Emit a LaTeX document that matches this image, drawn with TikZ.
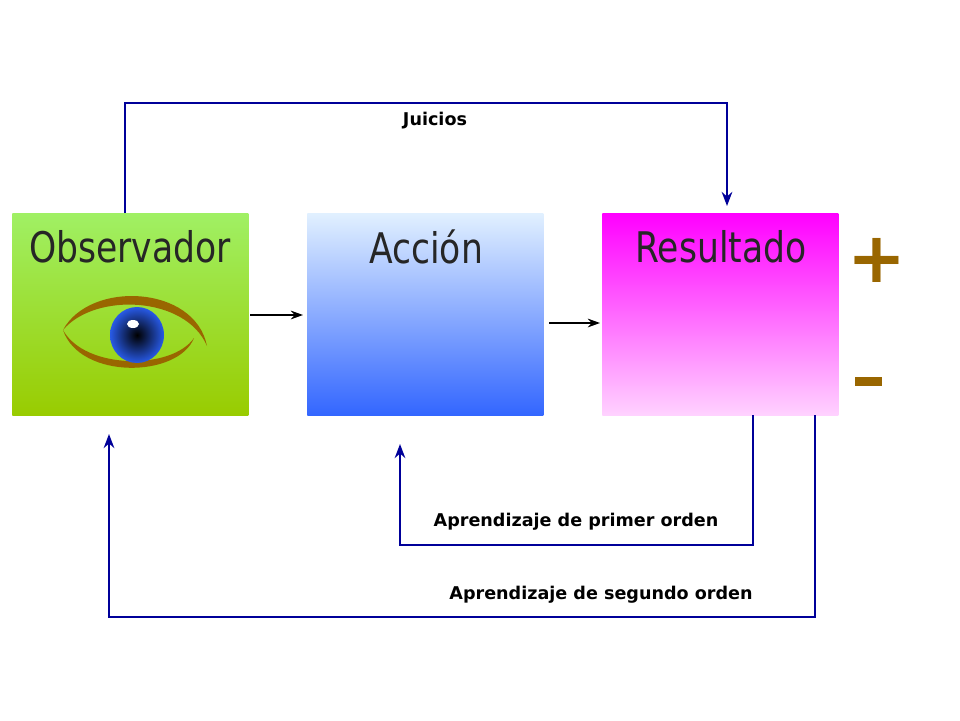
\documentclass[tikz,border=0pt]{standalone}
\usepackage{fontspec}
\setmainfont{DejaVu Sans}
\usetikzlibrary{arrows.meta,shadows}
\definecolor{lk}{HTML}{000099}
\definecolor{br}{HTML}{996600}
\tikzset{
 lnk/.style={draw=lk,line width=1.6pt,-{Stealth[length=8pt,width=6pt]}},
 sm/.style={draw=black,line width=0.8pt,-{Stealth[length=7pt,width=5pt]}},
 lbl/.style={font=\bfseries\fontsize{10}{12}\selectfont},
 ttl/.style={font=\fontsize{24}{28}\selectfont,text=black!85},
 box/.style={minimum width=4.72cm,minimum height=4.04cm,inner sep=0pt,anchor=north west,draw=none}
}
\begin{document}
\begin{tikzpicture}[x=0.02cm,y=-0.02cm]
\useasboundingbox[fill=white] (0,0) rectangle (960,720);
\node[box,top color={rgb,255:red,160;green,240;blue,100},bottom color={rgb,255:red,153;green,204;blue,0}] (obs) at (12,213) {};
\node[box,top color={rgb,255:red,225;green,240;blue,255},bottom color={rgb,255:red,51;green,102;blue,255}] (acc) at (307,213) {};
\node[box,top color={rgb,255:red,255;green,0;blue,255},bottom color={rgb,255:red,255;green,210;blue,255}] (res) at (602,213) {};
\node[ttl] (tobs) at (130,247) {\scalebox{0.82}[1]{Observador}};
\node[ttl] (tacc) at (426,247) {\scalebox{0.82}[1]{Acción}};
\node[ttl] (tres) at (721,247) {\scalebox{0.82}[1]{Resultado}};
\node[text=br,font=\bfseries\fontsize{40}{44}\selectfont] (plus) at (877,260) {+};
\fill[br] (855,377) rectangle (882,386);
% eye
\fill[br] (63,330) .. controls (90,280) and (195,285) .. (207,346) .. controls (186,296) and (95,292) .. (63,330) -- cycle;
\fill[br] (63,330) .. controls (80,380) and (178,378) .. (194,338) .. controls (172,370) and (85,370) .. (63,330) -- cycle;
\shade[inner color=black,outer color={rgb,255:red,40;green,90;blue,230}] (137,335) ellipse (27 and 28);
\fill[white] (133,324) ellipse (6 and 4);
% arrows
\coordinate (a1) at (250,315); \coordinate (a2) at (303,315);
\draw[sm] (a1) -- (a2);
\coordinate (b1) at (549,323); \coordinate (b2) at (600,323);
\draw[sm] (b1) -- (b2);
\coordinate (j0) at (125,213);
\coordinate (j3) at (727,206);
\draw[lnk] (j0) -- (125,103) -- (727,103) -- (j3);
\node[lbl] (jl) at (435,121) {Juicios};
\coordinate (p0) at (753,415); \coordinate (p3) at (400,444);
\draw[lnk] (p0) -- (753,545) -- (400,545) -- (p3);
\node[lbl] (pl) at (576,522) {Aprendizaje de primer orden};
\coordinate (s0) at (815,415); \coordinate (s3) at (109,434);
\draw[lnk] (s0) -- (815,617) -- (109,617) -- (s3);
\node[lbl] (sl) at (601,595) {Aprendizaje de segundo orden};
\end{tikzpicture}
\end{document}
